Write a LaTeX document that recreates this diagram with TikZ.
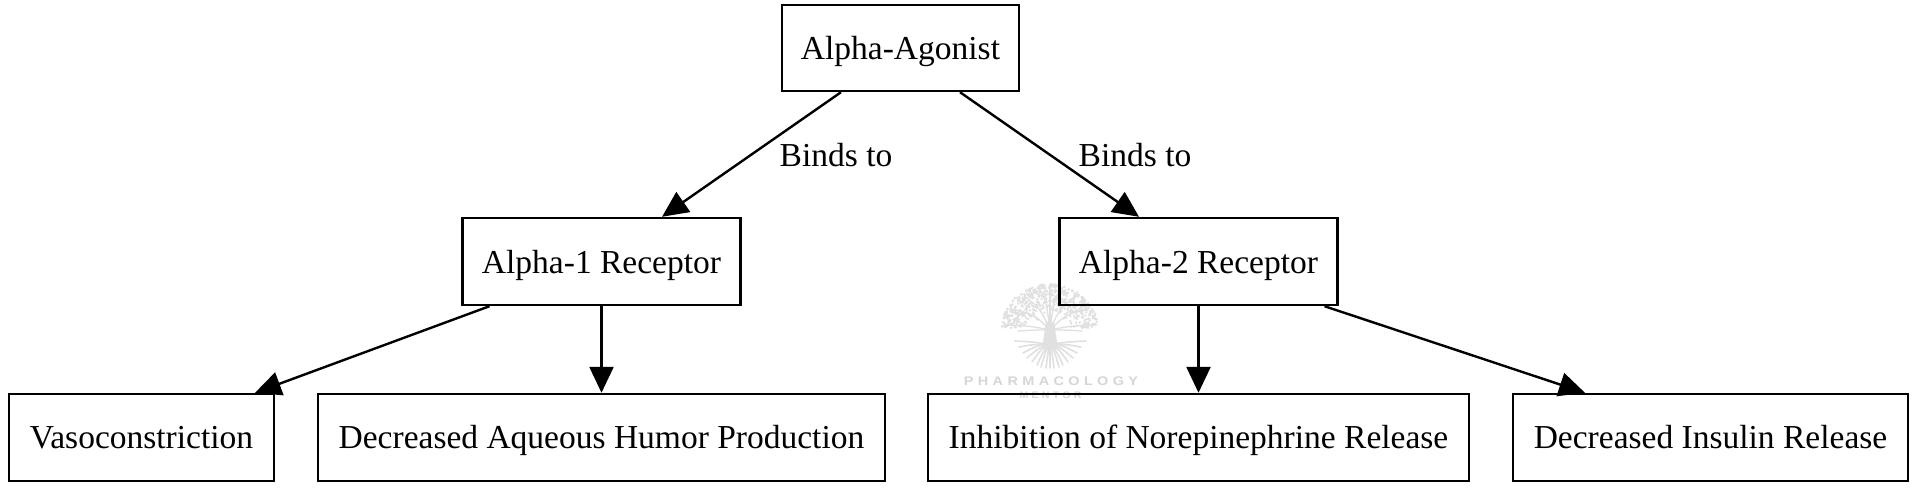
\documentclass[tikz,border=0pt]{standalone}
\usepackage{fontspec}
\setmainfont{Liberation Serif}
\newfontfamily\wmfont[LetterSpace=30]{Liberation Sans}
\usetikzlibrary{arrows.meta}
\definecolor{wmgray}{HTML}{E0E0E0}
\definecolor{wmtxt}{HTML}{D6D6D6}
\tikzset{
  box/.style={draw=black,line width=2.4pt,fill=none,inner sep=0pt,text height=22pt,text depth=0pt,font=\fontsize{33.5}{40}\selectfont,text=black},
  edgelabel/.style={inner sep=0pt,text height=22pt,text depth=0pt,font=\fontsize{33.5}{40}\selectfont,text=black},
  conn/.style={line width=2.4pt,draw=black,-{Triangle[length=26pt,width=24pt,fill=black]}},
  wmtree/.style={draw=wmgray,line width=1.3pt,line cap=round},
  wmroot/.style={draw=wmgray,line width=1.6pt,line cap=round},
  wmleaf/.style={fill=wmgray,draw=none},
  wmtext/.style={inner sep=0pt,text=wmtxt}
}
\begin{document}
\begin{tikzpicture}[x=1pt,y=-1pt]
\useasboundingbox[fill=white] (0,0) rectangle (1920,499);
% watermark
\pgfmathsetseed{4217}
\foreach \i in {1,...,520}{
  \pgfmathsetmacro{\ang}{rnd*180}
  \pgfmathsetmacro{\rad}{0.30+0.70*sqrt(rnd)}
  \fill[wmleaf] ({1050+48*\rad*cos(\ang)},{328-44*\rad*sin(\ang)}) circle[radius=1.3pt];
}
\foreach \ex/\ey/\cx/\cy in {1004/325/1030/326,1012/309/1035/315,1024/296/1040/308,1038/287/1046/300,1050/284/1050/300,1063/287/1054/300,1076/296/1060/308,1088/309/1065/315,1097/325/1070/326,1018/331/1035/330,1082/331/1065/330}{
  \draw[wmtree] (1050,330) .. controls (\cx,\cy) .. (\ex,\ey);
}
\fill[wmgray] (1042,349) -- (1046,322) -- (1054,322) -- (1058,349) -- cycle;
\foreach \ex/\ey/\cx/\cy in {1015/341/1035/342,1019/347/1036/344,1023/353/1038/345,1027/358/1040/347,1032/362/1042/348,1037/365/1044/350,1041/367/1046/350,1046/368/1048/352,1050/368/1050/352,1054/368/1052/352,1059/367/1054/350,1063/365/1056/350,1068/362/1058/348,1073/358/1060/347,1077/353/1062/345,1081/347/1064/344,1086/341/1065/342}{
  \draw[wmroot] (1050,345) .. controls (\cx,\cy) .. (\ex,\ey);
}
\node[wmtext,font=\wmfont\bfseries\fontsize{12.5}{14}\selectfont,xscale=1.16] (wm1) at (1051,381.5) {PHARMACOLOGY};
\node[wmtext,font=\wmfont\bfseries\fontsize{9.5}{11}\selectfont,xscale=1.12] (wm2) at (1050.5,395.5) {MENTOR};
% nodes
\node[box,text height=23pt,minimum width=237pt,minimum height=86pt] (ag) at (900.5,48) {Alpha-Agonist};
\node[box,text height=24pt,minimum width=278pt,minimum height=87pt] (a1) at (601.5,261.5) {Alpha-1 Receptor};
\node[box,text height=24pt,minimum width=278pt,minimum height=87pt] (a2) at (1198.5,261.5) {Alpha-2 Receptor};
\node[box,minimum width=265pt,minimum height=87pt] (va) at (141.5,437.5) {Vasoconstriction};
\node[box,minimum width=567pt,minimum height=87pt] (da) at (601.5,437.5) {Decreased Aqueous Humor Production};
\node[box,minimum width=541pt,minimum height=87pt] (in) at (1198.5,437.5) {Inhibition of Norepinephrine Release};
\node[box,minimum width=395pt,minimum height=87pt] (ir) at (1710.5,437.5) {Decreased Insulin Release};
% edge labels
\node[edgelabel] (l1) at (836,155.5) {Binds to};
\node[edgelabel] (l2) at (1135,155.5) {Binds to};
% connectors
\draw[conn] ([xshift=-59.5pt]ag.south) -- ([xshift=60.5pt]a1.north);
\draw[conn] ([xshift=59.5pt]ag.south) -- ([xshift=-59.5pt]a2.north);
\draw[conn] ([xshift=-112pt]a1.south) -- ([xshift=113.5pt]va.north);
\draw[conn] (a1.south) -- (da.north);
\draw[conn] (a2.south) -- (in.north);
\draw[conn] ([xshift=126pt]a2.south) -- ([xshift=-125.5pt]ir.north);
\end{tikzpicture}
\end{document}
